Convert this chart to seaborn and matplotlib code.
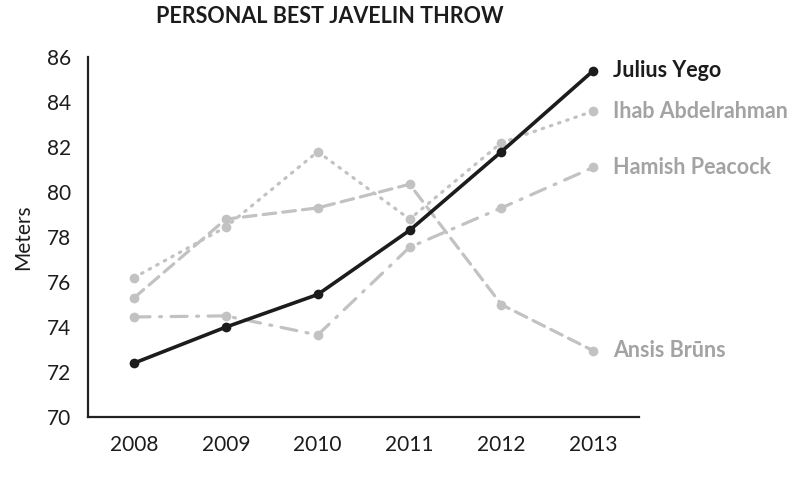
import matplotlib
matplotlib.use("Agg")
import matplotlib.pyplot as plt
import numpy as np
import pandas as pd
import seaborn as sns

# data
years = [2008, 2009, 2010, 2011, 2012, 2013]
yego = [72.4, 74.0, 75.45, 78.3, 81.8, 85.4]
abdelrahman = [76.2, 78.45, 81.8, 78.8, 82.2, 83.6]
peacock = [74.45, 74.5, 73.65, 77.55, 79.3, 81.1]
bruns = [75.3, 78.8, 79.3, 80.35, 75.0, 72.95]

athletes = ["Julius Yego", "Ihab Abdelrahman", "Hamish Peacock", "Ansis Brūns"]
values = [yego, abdelrahman, peacock, bruns]

sns.set_theme(style="white")
plt.rcParams['font.family'] = ['Lato', 'DejaVu Sans']

df = pd.DataFrame({
    "year": years * len(athletes),
    "meters": np.concatenate(values),
    "athlete": np.repeat(athletes, len(years)),
})

line_color = {"Julius Yego": "#1c1c1c", "Ihab Abdelrahman": "#c2c2c2",
              "Hamish Peacock": "#c2c2c2", "Ansis Brūns": "#c2c2c2"}
text_color = {"Julius Yego": "#1c1c1c", "Ihab Abdelrahman": "#a3a3a3",
              "Hamish Peacock": "#a3a3a3", "Ansis Brūns": "#a3a3a3"}
dashes = {"Julius Yego": (None, None), "Ihab Abdelrahman": (0.5, 2.2),
          "Hamish Peacock": (5, 3, 0.6, 3), "Ansis Brūns": (4, 2.2)}

fig = plt.figure(figsize=(8.01, 4.93), dpi=100)
ax = fig.add_axes([0.110, 0.154, 0.688, 0.730])

# gray first so the black line is on top
for name in athletes[::-1]:
    sub = df[df["athlete"] == name]
    lw = 2.6 if name == "Julius Yego" else 2.3
    sns.lineplot(data=sub, x="year", y="meters", ax=ax, color=line_color[name],
                 linewidth=lw, marker="o", markersize=7, markeredgewidth=0,
                 dashes=False, legend=False, zorder=3 if name == "Julius Yego" else 2)
    ln = ax.lines[-1]
    if dashes[name][0] is not None:
        ln.set_dashes(dashes[name])
        ln.set_dash_capstyle("round")
    ax.annotate(name, xy=(sub["year"].iloc[-1], sub["meters"].iloc[-1]),
                xytext=(14, 0), textcoords="offset points", va="center", ha="left",
                fontsize=15.5, fontweight="bold", color=text_color[name],
                annotation_clip=False)

ax.set_xlim(2007.5, 2013.5)
ax.set_ylim(70, 86)
ax.set_xticks(years)
ax.set_yticks(range(70, 87, 2))
ax.tick_params(axis="both", length=0, labelsize=15, colors="#1c1c1c")
ax.tick_params(axis="y", pad=12)
ax.tick_params(axis="x", pad=13)
ax.set_xlabel("")
ax.set_ylabel("Meters", fontsize=15, color="#1c1c1c", labelpad=10)

for side in ["top", "right"]:
    ax.spines[side].set_visible(False)
for side in ["left", "bottom"]:
    ax.spines[side].set_color("#222222")
    ax.spines[side].set_linewidth(1.6)

fig.text(0.412, 0.966, "PERSONAL BEST JAVELIN THROW", ha="center", va="center",
         fontsize=15.5, fontweight="bold", color="#1c1c1c")

fig.savefig("out.png", dpi=100)
